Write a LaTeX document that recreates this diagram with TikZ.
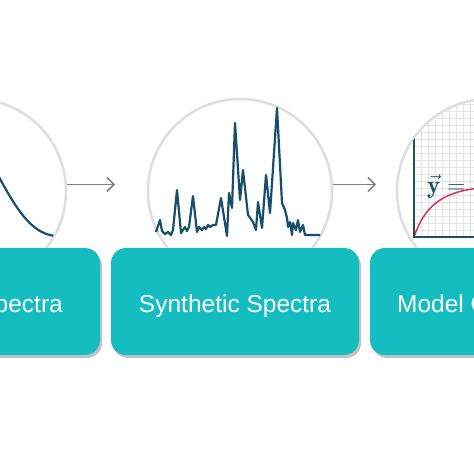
\documentclass[tikz,border=0pt]{standalone}
\usepackage{fontspec}
\setsansfont{Liberation Sans}
\usetikzlibrary{positioning,shadows,arrows.meta}
\definecolor{boxteal}{RGB}{20,189,191}
\definecolor{specblue}{RGB}{22,78,108}
\definecolor{axisblue}{RGB}{30,78,98}
\definecolor{rimgray}{RGB}{222,222,222}
\definecolor{curvepink}{RGB}{214,51,108}
\definecolor{gridgray}{RGB}{228,228,228}

\begin{document}
\begin{tikzpicture}[x=1pt, y=-1pt,
    lens/.style={circle, draw=rimgray, line width=2.5pt, fill=white, minimum size=184pt, inner sep=0pt},
    stagebox/.style={rectangle, rounded corners=15pt, fill=boxteal, minimum width=248pt, minimum height=107pt,
        drop shadow={shadow xshift=2pt, shadow yshift=-3pt, opacity=0.4, fill=black!60}},
    stagetext/.style={text=white, font=\sffamily\fontsize{24.5}{28}\selectfont, anchor=base, inner sep=0pt},
    flowarrow/.style={draw=black!50, line width=1.5pt, -{Straight Barb[length=7pt,width=14pt]}},
    specline/.style={draw=specblue, line width=2.2pt, line join=round},
    gridline/.style={draw=gridgray, line width=0.5pt}]
    \useasboundingbox (0,0) rectangle (474,474);
    \clip (0,0) rectangle (474,474);

    % lenses
    \node (realC) [lens] at (-26,191) {};
    \node (specC) [lens] at (240,191) {};
    \node (modelC) [lens] at (489,191) {};

    % left lens: measured curve
    \begin{scope}
        \clip (realC.center) circle (91pt);
        \draw[specline] (-10,160) .. controls (15,208) and (30,233) .. (55,236);
    \end{scope}

    % middle lens: synthetic spectrum
    \draw[specline] plot coordinates {(156,232) (160,220) (162,231) (165,234) (168,232) (171,235) (173,230)
        (177,190) (181,233) (185,227) (187,231) (189,227) (193,196) (197,232) (199,227) (202,230) (204,227)
        (206,229) (208,225) (210,227) (213,225) (216,225) (221,198) (224,217) (227,236) (229,193) (232,208)
        (235,123) (240,200) (243,170) (248,215) (253,222) (256,230) (258,202) (262,228) (266,175) (270,213)
        (277,108) (282,203) (285,210) (287,218) (288,227) (290,222) (292,235) (293,223) (296,230) (298,220)
        (300,232) (303,225) (305,235) (320,235)};

    % right lens: model plot
    \begin{scope}
        \clip (modelC.center) circle (91pt);
        \foreach \gx in {421,428,...,560} \draw[gridline] (\gx,90) -- (\gx,237);
        \foreach \gy in {230,223,...,90} \draw[gridline] (414,\gy) -- (560,\gy);
        \draw[curvepink, line width=1.5pt] (414,237) .. controls (424,208) and (440,192) .. (480,188);
        \draw[axisblue, line width=2pt] (414,90) -- (414,237) -- (560,237);
        \node (modelEq) [anchor=base west, inner sep=0pt, text=axisblue, font=\fontsize{25}{25}\selectfont]
            at (427,193) {$\vec{\mathbf{y}}=$};
    \end{scope}

    % stage boxes
    \node (realB) [stagebox] at (-24,301.5) {};
    \node (specB) [stagebox] at (235,301.5) {};
    \node (modelB) [stagebox] at (494,301.5) {};
    \node (realT) [stagetext, anchor=base east] at (63,312) {Spectra};
    \node (specT) [stagetext] at (235,312) {Synthetic Spectra};
    \node (modelT) [stagetext, anchor=base west] at (397,312) {Model C};

    % arrows
    \coordinate (arrowA) at (115,185);
    \coordinate (arrowB) at (376,185);
    \draw[flowarrow] (realC.4) -- (arrowA |- realC.4);
    \draw[flowarrow] (specC.4) -- (arrowB |- specC.4);
\end{tikzpicture}
\end{document}
